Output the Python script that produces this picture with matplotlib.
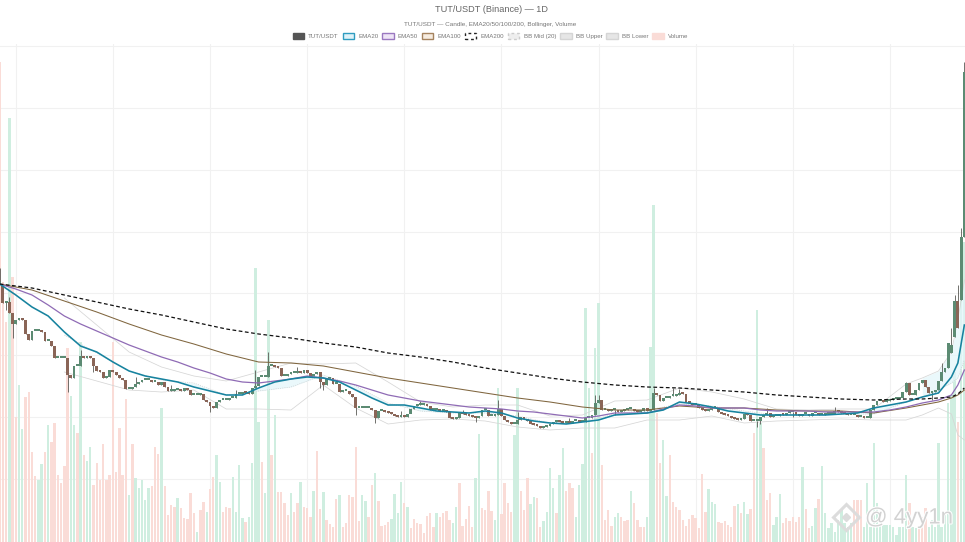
import matplotlib
matplotlib.use("Agg")
import matplotlib.pyplot as plt
import matplotlib.patheffects as pe
import numpy as np
from matplotlib.lines import Line2D
from matplotlib.patches import Patch

plt.rcParams['font.family'] = ['Liberation Sans', 'DejaVu Sans']

# price and volume share one scale, no labels survive on the screenshot
closes = [
    258, 239, 240, 229, 218, 222, 224, 222, 208, 202,
    211, 211, 211, 210, 201, 201, 196, 184, 184, 184,
    184, 167, 164, 176, 176, 186, 184, 186, 184, 176,
    171, 170, 164, 165, 172, 170, 167, 164, 162, 153,
    153, 155, 158, 160, 162, 162, 162, 160, 160, 157,
    160, 155, 151, 151, 152, 152, 151, 154, 152, 147,
    147, 147, 148, 142, 140, 136, 134, 140, 142, 142,
    142, 144, 144, 148, 148, 150, 149, 148, 154, 156,
    165, 165, 165, 176, 176, 175, 174, 166, 166, 168,
    169, 169, 170, 169, 172, 169, 166, 168, 170, 160,
    157, 163, 164, 158, 158, 150, 151, 151, 148, 145,
    134, 134, 134, 134, 134, 132, 124, 131, 131, 130,
    129, 128, 126, 125, 127, 125, 128, 133, 136, 137,
    137, 138, 136, 132, 132, 132, 131, 132, 130, 124,
    123, 124, 129, 128, 127, 126, 125, 124, 126, 132,
    132, 126, 126, 127, 133, 126, 122, 120, 118, 118,
    122, 125, 123, 121, 118, 117, 116, 114, 115, 116,
    118, 120, 121, 120, 119, 120, 119, 121, 121, 120,
    120, 124, 124, 127, 139, 142, 132, 132, 131, 132,
    132, 130, 131, 132, 133, 133, 131, 130, 131, 134,
    131, 132, 149, 147, 141, 144, 144, 146, 146, 147,
    149, 148, 140, 139, 137, 137, 134, 132, 131, 132,
    134, 134, 130, 128, 127, 126, 124, 123, 122, 123,
    128, 127, 121, 121, 121, 125, 127, 129, 125, 126,
    126, 128, 127, 129, 130, 130, 127, 126, 128, 128,
    126, 129, 129, 127, 127, 128, 128, 128, 131, 130,
    129, 128, 127, 127, 127, 125, 125, 124, 124, 132,
    137, 141, 141, 140, 141, 142, 143, 143, 144, 150,
    159, 147, 147, 152, 159, 162, 155, 149, 150, 152,
    161, 170, 174, 199, 197, 241, 214, 305, 470,
]

# open is the previous close except for these bars
open_gaps = {294: 189, 295: 205, 297: 242}

# wicks that can be made out, the rest are lost in the blur
high_wicks = {0: 274, 3: 245, 17: 192, 25: 192, 42: 165, 53: 157, 73: 152, 79: 172, 83: 190, 92: 175,
              124: 131, 130: 141, 143: 132, 151: 130, 154: 142, 160: 130, 176: 124, 184: 147, 185: 147,
              202: 154, 208: 154, 210: 153, 237: 134, 258: 135, 280: 160, 291: 179, 294: 214, 295: 247,
              296: 257, 297: 314, 298: 480}
low_wicks = {2: 232, 4: 204, 21: 150, 29: 170, 65: 130, 99: 154, 100: 152, 110: 127, 116: 119, 127: 130,
             147: 120, 190: 127, 234: 115, 235: 118, 245: 125, 288: 142}

volumes = [
    480, 260, 220, 424, 265, 125, 157, 113, 145, 150,
    90, 66, 62, 78, 90, 117, 100, 119, 67, 59,
    76, 194, 146, 117, 109, 200, 87, 81, 95, 57,
    79, 62, 98, 62, 67, 200, 70, 114, 67, 143,
    47, 98, 64, 54, 62, 42, 54, 56, 95, 88,
    134, 56, 27, 37, 35, 44, 34, 24, 23, 49,
    29, 10, 32, 40, 30, 53, 65, 87, 60, 30,
    35, 34, 65, 30, 77, 24, 20, 25, 79, 274,
    120, 80, 49, 222, 87, 127, 50, 50, 39, 27,
    49, 30, 39, 60, 35, 34, 25, 51, 91, 33,
    50, 22, 18, 15, 43, 47, 15, 19, 47, 45,
    95, 21, 47, 41, 25, 57, 69, 41, 16, 17,
    20, 23, 48, 29, 60, 39, 35, 14, 23, 19,
    18, 9, 26, 29, 15, 29, 25, 29, 31, 22,
    19, 35, 59, 16, 23, 36, 15, 64, 108, 34,
    32, 51, 31, 22, 154, 28, 59, 39, 30, 107,
    154, 51, 32, 64, 38, 45, 44, 15, 21, 30,
    74, 54, 29, 67, 94, 51, 59, 54, 25, 57,
    78, 234, 154, 89, 194, 239, 77, 22, 32, 16,
    25, 29, 25, 21, 22, 51, 39, 22, 15, 15,
    25, 195, 337, 129, 79, 102, 46, 87, 40, 35,
    32, 22, 16, 23, 27, 24, 14, 68, 30, 53,
    40, 38, 20, 19, 21, 17, 15, 36, 38, 29,
    40, 28, 33, 109, 232, 119, 94, 42, 49, 17,
    25, 48, 19, 24, 21, 25, 20, 25, 75, 33,
    14, 16, 34, 43, 76, 29, 14, 19, 10, 22,
    32, 19, 15, 19, 42, 42, 42, 15, 59, 15,
    99, 39, 17, 17, 17, 17, 15, 7, 15, 15,
    67, 39, 15, 14, 14, 25, 34, 15, 22, 15,
    99, 15, 29, 139, 147, 170, 120, 245, 300,
]

# g / r of every volume bar, same rows as above
volume_sides = (
    "rrrgrrggrr" "rrggrgrrrr" "rrggrgrggr" "rrrrrrrrrr" "grggggg" "rrr"
    "grrrrgrrrr" "rgrrgrrggr" "rrgggg" "rggg" "grggrgrrrr" "grrgrrrgrr"
    "grrrrgrrrr" "rrggrrgrrr" "rggggrgrrr" "rrrrrgrrrr" "ggrrrrrggr"
    "rrrggrrrrg" "grrrggrrgg" "ggrggrrrgg" "gggrggrrrr" "ggrrrgrrrr"
    "gggrrggrrr" "rrrrrrrrrg" "ggrrrrrrgr" "ggrrggrrrg" "ggrrrrrrgr"
    "rggrgggggg" "ggggrrrggg" "gggggggggg" "grggrrrggg" "ggggggrgg"
)

# slow lines, fast ones every 5
line_bars = [0, 10, 20, 30, 40, 50, 60, 70, 80, 90, 100, 110, 120, 130, 140, 150, 160, 170, 180, 190,
             200, 210, 220, 230, 240, 250, 260, 270, 280, 285, 290, 294, 296, 298]
fast_bars = [0, 5, 10, 15, 20, 25, 30, 35, 40, 45, 50, 55, 60, 65, 70, 75, 80, 85, 90, 95, 100, 105, 110, 115,
             120, 125, 130, 135, 140, 145, 150, 155, 160, 165, 170, 175, 180, 185, 190, 195, 200, 205, 210, 215,
             220, 225, 230, 235, 240, 245, 250, 255, 260, 265, 270, 275, 280, 285, 290, 294, 296, 298]
ema20 = [258, 247, 235, 226, 210, 196, 190, 180, 171, 166, 163, 160, 155, 151, 147, 147, 154, 160, 163, 165,
         164, 160, 152, 144, 137, 137, 134, 131, 130, 129, 131, 129, 124, 121, 119, 118, 120, 122, 127, 128,
         129, 132, 140, 138, 135, 131, 129, 127, 127, 127, 127, 127, 128, 129, 134, 137, 140, 145, 149, 165,
         179, 217]
ema50 = [258, 253, 247, 237, 226, 218, 211, 204, 197, 191, 185, 180, 174, 169, 163, 160, 159, 161, 163, 166,
         164, 161, 157, 152, 147, 144, 141, 139, 137, 135, 134, 133, 131, 130, 128, 126, 124, 126, 129, 129,
         129, 133, 137, 136, 134, 134, 134, 132, 131, 131, 131, 130, 130, 130, 130, 132, 135, 139, 142, 147,
         157, 172]
ema100 = [258, 252, 241, 230, 218, 207, 198, 188, 180, 179, 176, 170, 164, 159, 154, 149, 144, 140, 135, 132,
          132, 136, 134, 134, 132, 131, 131, 129, 134, 137, 140, 144, 147, 152]
ema200 = [258, 254, 247, 240, 233, 227, 220, 213, 208, 204, 199, 195, 189, 185, 180, 174, 169, 164, 160, 157,
          155, 154, 152, 150, 147, 145, 143, 142, 143, 143, 144, 145, 148, 154]

# bollinger needs 20 bars, so these begin at line_bars[2]
bb_bars = line_bars[2:]
bb_mid = [207, 189, 171, 162, 159, 147, 151, 155, 167, 156, 139, 131, 129, 129, 126, 119, 120, 128, 132, 138,
          136, 131, 127, 127, 128, 128, 140, 145, 152, 159, 164, 182]
bb_upper = [244, 217, 190, 175, 166, 161, 170, 179, 178, 179, 160, 140, 135, 137, 137, 126, 127, 141, 142, 154,
            150, 143, 133, 132, 133, 133, 158, 164, 171, 190, 222, 262]
bb_lower = [170, 161, 152, 150, 152, 133, 133, 132, 157, 134, 118, 122, 123, 121, 115, 112, 114, 114, 122, 122,
            126, 119, 121, 122, 123, 122, 122, 127, 134, 128, 107, 102]

legend_names = ['TUT/USDT', 'EMA20', 'EMA50', 'EMA100', 'EMA200', 'BB Mid (20)', 'BB Upper', 'BB Lower', 'Volume']
grid_bars = [5, 35, 65, 95, 125, 155, 185, 215, 245, 275]
grid_levels = [63, 125, 187, 249, 310, 372, 434, 496]

UP = '#5c8b73'
DOWN = '#8a6557'
VOL_UP = '#cfeee0'
VOL_DOWN = '#fadcd7'

fig = plt.figure(figsize=(9.65, 5.42), dpi=100)
ax = fig.add_axes([0, 0, 1, 498 / 542])

bars = range(len(closes))
opens = [open_gaps.get(i, closes[i - 1] if i else closes[0]) for i in bars]

ax.bar(bars, volumes, width=0.74, zorder=1,
       color=[VOL_UP if s == 'g' else VOL_DOWN for s in volume_sides])

# pale band along ema20, it opens up towards bb upper in the last rally
ax.fill_between(fast_bars[4:], ema20[4:], np.interp(fast_bars[4:], bb_bars, bb_mid),
                color='#e3f6fa', alpha=0.75, lw=0, zorder=2)
ax.fill_between(fast_bars[-5:], ema20[-5:], bb_upper[-5:], color='#e3f6fa', alpha=0.75, lw=0, zorder=2)
ax.plot(bb_bars, bb_upper, color='#d6d6d6', lw=0.55, zorder=3)
ax.plot(bb_bars, bb_lower, color='#d6d6d6', lw=0.55, zorder=3)
ax.plot(bb_bars, bb_mid, color='#c8c8c8', lw=0.4, ls=(0, (2, 2)), zorder=3)

# candles
for i in bars:
    top = max(opens[i], closes[i])
    bottom = min(opens[i], closes[i])
    col = UP if closes[i] >= opens[i] else DOWN
    ax.vlines(i, low_wicks.get(i, bottom), high_wicks.get(i, top), color='#5a5a55', lw=0.6, zorder=4)
    ax.bar(i, max(top - bottom, 2), bottom=bottom, width=0.88, color=col, zorder=5)

ax.plot(line_bars, ema100, color='#80663f', lw=0.75, zorder=6)
ax.plot(fast_bars, ema50, color='#8f6bb5', lw=0.9, zorder=6)
ax.plot(fast_bars, ema20, color='#17839f', lw=1.15, zorder=7)
ax.plot(line_bars, ema200, color='#111111', lw=0.9, ls=(0, (3, 2)), zorder=7)

ax.set_xlim(0.12, 298.2)
ax.set_ylim(0, 498)
ax.set_xticks(grid_bars)
ax.set_yticks(grid_levels)
ax.set_xticklabels([])
ax.set_yticklabels([])
ax.tick_params(length=0)
ax.grid(True, color='#f1f1f1', lw=0.8)
ax.set_axisbelow(True)
for side in ax.spines.values():
    side.set_visible(False)

fig.text(491.5 / 965, 1 - 10 / 542, 'TUT/USDT (Binance) — 1D', ha='center', va='center', fontsize=6.6, color='#666666')
fig.text(490.5 / 965, 1 - 24.5 / 542, 'TUT/USDT — Candle, EMA20/50/100/200, Bollinger, Volume',
         ha='center', va='center', fontsize=4.6, color='#777777')

handles = [
    Patch(facecolor='#555555', edgecolor='#555555'),
    Patch(facecolor='#dff2f8', edgecolor='#2f9cc0'),
    Patch(facecolor='#eee4f6', edgecolor='#9a78c0'),
    Patch(facecolor='#f6ece0', edgecolor='#a5835f'),
    Patch(facecolor='white', edgecolor='#222222', ls=(0, (2, 2))),
    Patch(facecolor='#eeeeee', edgecolor='#cccccc', ls=(0, (2, 2))),
    Patch(facecolor='#e6e6e6', edgecolor='#d5d5d5'),
    Patch(facecolor='#e6e6e6', edgecolor='#d5d5d5'),
    Patch(facecolor=VOL_DOWN, edgecolor=VOL_DOWN),
]
fig.legend(handles, legend_names, loc='center', bbox_to_anchor=(490.5 / 965, 1 - 36 / 542), ncol=9, frameon=False,
           fontsize=4.4, labelcolor='#777777', handlelength=1.85, handleheight=1.3, handletextpad=0.7,
           columnspacing=0.65, borderpad=0, borderaxespad=0)

# watermark
fig.add_artist(Line2D([846 / 965], [1 - 517 / 542], marker='D', ms=13, mfc='none', mec='#dcdcdc', mew=2.2,
                      transform=fig.transFigure))
fig.add_artist(Line2D([846 / 965], [1 - 517 / 542], marker='D', ms=4, mfc='#dcdcdc', mec='#dcdcdc',
                      transform=fig.transFigure))
fig.text(865 / 965, 1 - 518 / 542, '@ 4yy1n', ha='left', va='center', fontsize=16, color='#d2d2d2', zorder=20,
         path_effects=[pe.withStroke(linewidth=1.5, foreground='white')])

fig.savefig('out.png', dpi=100)
